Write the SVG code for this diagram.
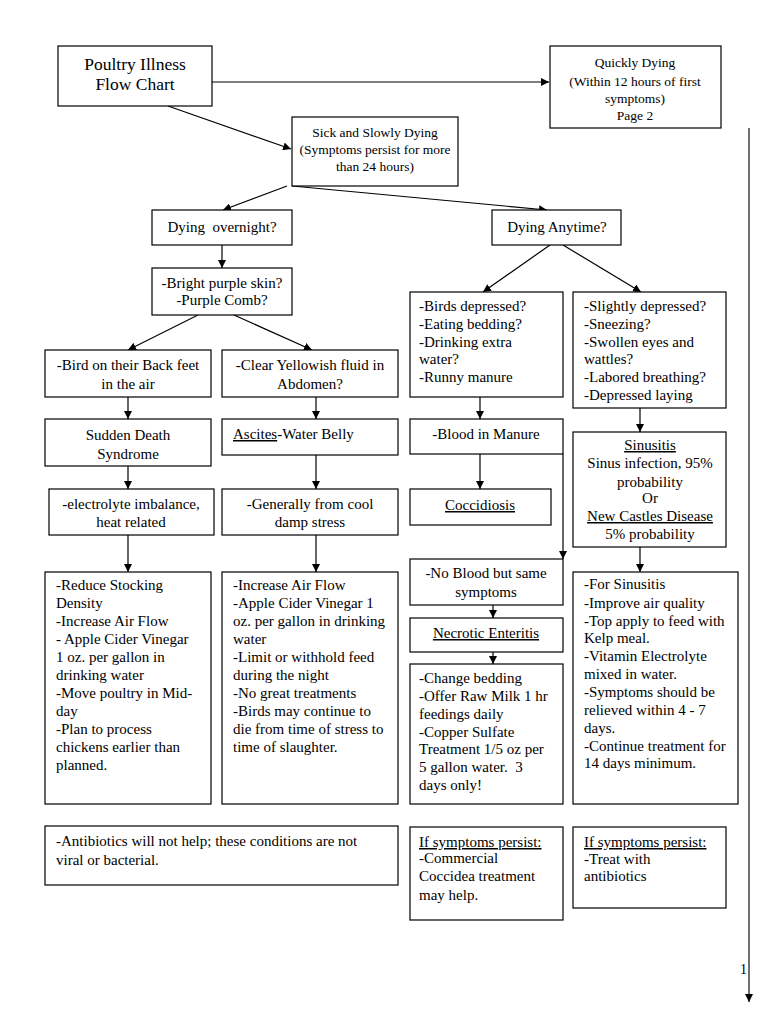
<svg xmlns="http://www.w3.org/2000/svg" width="768" height="1024" viewBox="0 0 768 1024">
<style>
text{font-family:"Liberation Serif","Times New Roman",serif;font-size:15px;fill:#000;white-space:pre}
.c{text-anchor:middle}
.t{font-size:17.5px}
.s{font-size:13.5px}
rect{fill:#fff;stroke:#000;stroke-width:1.2}
.ln{stroke:#000;stroke-width:1.2;fill:none;marker-end:url(#ah)}
.u{text-decoration:underline}
</style>
<defs>
<marker id="ah" viewBox="0 0 10 10" refX="10" refY="5" markerWidth="8" markerHeight="8" markerUnits="userSpaceOnUse" orient="auto">
<path d="M0,0 L10,5 L0,10 z" fill="#000"/>
</marker>
</defs>
<rect x="0" y="0" width="768" height="1024" style="stroke:none"/>
<g id="connectors">
<line class="ln" x1="212" y1="82" x2="549" y2="82"/>
<line class="ln" x1="168" y1="106" x2="291" y2="149"/>
<line class="ln" x1="287" y1="186" x2="223" y2="210"/>
<line class="ln" x1="292" y1="186" x2="547" y2="210"/>
<line class="ln" x1="222" y1="245" x2="222" y2="268"/>
<line class="ln" x1="198" y1="315" x2="128" y2="350"/>
<line class="ln" x1="234" y1="315" x2="312" y2="350"/>
<line class="ln" x1="128" y1="397" x2="128" y2="419"/>
<line class="ln" x1="316" y1="397" x2="316" y2="419"/>
<line class="ln" x1="128" y1="466" x2="128" y2="489"/>
<line class="ln" x1="316" y1="455" x2="316" y2="489"/>
<line class="ln" x1="128" y1="535" x2="128" y2="572"/>
<line class="ln" x1="316" y1="535" x2="316" y2="572"/>
<line class="ln" x1="550" y1="245" x2="483" y2="292"/>
<line class="ln" x1="563" y1="245" x2="641" y2="292"/>
<line class="ln" x1="480" y1="397" x2="480" y2="419"/>
<line class="ln" x1="480" y1="454" x2="480" y2="489"/>
<line class="ln" x1="563" y1="454" x2="563" y2="559"/>
<line class="ln" x1="640" y1="408" x2="640" y2="432"/>
<line class="ln" x1="640" y1="547" x2="640" y2="572"/>
<line class="ln" x1="493" y1="605" x2="493" y2="618"/>
<line class="ln" x1="493" y1="652" x2="493" y2="664"/>
<line class="ln" x1="749" y1="128" x2="749" y2="1002" style="stroke:#333;stroke-width:1.4"/>
</g>
<g id="title">
<rect x="58" y="46" width="154" height="60"/>
<text class="c t" x="135" y="70">Poultry Illness</text>
<text class="c t" x="135" y="90">Flow Chart</text>
</g>
<g id="quickly">
<rect x="550" y="46" width="171" height="82"/>
<text class="c s" x="635" y="67">Quickly Dying</text>
<text class="c s" x="635" y="86">(Within 12 hours of first</text>
<text class="c s" x="635" y="103">symptoms)</text>
<text class="c s" x="635" y="120">Page 2</text>
</g>
<g id="sick">
<rect x="292" y="117" width="166" height="69"/>
<text class="c s" x="375" y="137">Sick and Slowly Dying</text>
<text class="c s" x="375" y="154">(Symptoms persist for more</text>
<text class="c s" x="375" y="171">than 24 hours)</text>
</g>
<g id="overnight">
<rect x="152" y="210" width="140" height="35"/>
<text class="c" x="222" y="232">Dying  overnight?</text>
</g>
<g id="anytime">
<rect x="492" y="210" width="129" height="35"/>
<text class="c" x="557" y="232">Dying Anytime?</text>
</g>
<g id="purple">
<rect x="152" y="268" width="140" height="47"/>
<text class="c" x="222" y="288">-Bright purple skin?</text>
<text class="c" x="222" y="305">-Purple Comb?</text>
</g>
<g id="bird">
<rect x="45" y="350" width="166" height="47"/>
<text class="c" x="128" y="370">-Bird on their Back feet</text>
<text class="c" x="128" y="389">in the air</text>
</g>
<g id="clear">
<rect x="222" y="350" width="176" height="47"/>
<text class="c" x="310" y="370">-Clear Yellowish fluid in</text>
<text class="c" x="310" y="389">Abdomen?</text>
</g>
<g id="sudden">
<rect x="45" y="419" width="166" height="47"/>
<text class="c" x="128" y="440">Sudden Death</text>
<text class="c" x="128" y="459">Syndrome</text>
</g>
<g id="ascites">
<rect x="222" y="419" width="176" height="36"/>
<text x="233" y="439"><tspan class="u">Ascites</tspan>-Water Belly</text>
</g>
<g id="electrolyte">
<rect x="49" y="489" width="165" height="46"/>
<text class="c" x="131" y="509">-electrolyte imbalance,</text>
<text class="c" x="131" y="527">heat related</text>
</g>
<g id="generally">
<rect x="222" y="489" width="176" height="46"/>
<text class="c" x="310" y="509">-Generally from cool</text>
<text class="c" x="310" y="527">damp stress</text>
</g>
<g id="reduce">
<rect x="45" y="572" width="166" height="232"/>
<text x="56" y="590">-Reduce Stocking</text>
<text x="56" y="608">Density</text>
<text x="56" y="626">-Increase Air Flow</text>
<text x="56" y="644">- Apple Cider Vinegar</text>
<text x="56" y="662">1 oz. per gallon in</text>
<text x="56" y="680">drinking water</text>
<text x="56" y="698">-Move poultry in Mid-</text>
<text x="56" y="716">day</text>
<text x="56" y="734">-Plan to process</text>
<text x="56" y="752">chickens earlier than</text>
<text x="56" y="770">planned.</text>
</g>
<g id="increase">
<rect x="222" y="572" width="176" height="232"/>
<text x="233" y="590">-Increase Air Flow</text>
<text x="233" y="608">-Apple Cider Vinegar 1</text>
<text x="233" y="626">oz. per gallon in drinking</text>
<text x="233" y="644">water</text>
<text x="233" y="662">-Limit or withhold feed</text>
<text x="233" y="680">during the night</text>
<text x="233" y="698">-No great treatments</text>
<text x="233" y="716">-Birds may continue to</text>
<text x="233" y="734">die from time of stress to</text>
<text x="233" y="752">time of slaughter.</text>
</g>
<g id="antibiotics">
<rect x="45" y="826" width="353" height="59"/>
<text x="56" y="846">-Antibiotics will not help; these conditions are not</text>
<text x="56" y="865">viral or bacterial.</text>
</g>
<g id="depressed">
<rect x="410" y="292" width="153" height="105"/>
<text x="419" y="311">-Birds depressed?</text>
<text x="419" y="329">-Eating bedding?</text>
<text x="419" y="347">-Drinking extra</text>
<text x="419" y="364">water?</text>
<text x="419" y="382">-Runny manure</text>
</g>
<g id="slightly">
<rect x="573" y="292" width="153" height="116"/>
<text x="584" y="311">-Slightly depressed?</text>
<text x="584" y="329">-Sneezing?</text>
<text x="584" y="347">-Swollen eyes and</text>
<text x="584" y="364">wattles?</text>
<text x="584" y="382">-Labored breathing?</text>
<text x="584" y="400">-Depressed laying</text>
</g>
<g id="blood">
<rect x="410" y="419" width="153" height="35"/>
<text class="c" x="486" y="439">-Blood in Manure</text>
</g>
<g id="coccidiosis">
<rect x="410" y="489" width="141" height="36"/>
<text class="c u" x="480" y="510">Coccidiosis</text>
</g>
<g id="sinusitis">
<rect x="573" y="432" width="153" height="115"/>
<text class="c u" x="650" y="450">Sinusitis</text>
<text class="c" x="650" y="468">Sinus infection, 95%</text>
<text class="c" x="650" y="487">probability</text>
<text class="c" x="650" y="503">Or</text>
<text class="c u" x="650" y="521">New Castles Disease</text>
<text class="c" x="650" y="539">5% probability</text>
</g>
<g id="noblood">
<rect x="410" y="559" width="153" height="46"/>
<text class="c" x="486" y="578">-No Blood but same</text>
<text class="c" x="486" y="597">symptoms</text>
</g>
<g id="necrotic">
<rect x="410" y="618" width="153" height="34"/>
<text class="c u" x="486" y="638">Necrotic Enteritis</text>
</g>
<g id="change">
<rect x="410" y="664" width="153" height="140"/>
<text x="419" y="683">-Change bedding</text>
<text x="419" y="701">-Offer Raw Milk 1 hr</text>
<text x="419" y="719">feedings daily</text>
<text x="419" y="737">-Copper Sulfate</text>
<text x="419" y="754">Treatment 1/5 oz per</text>
<text x="419" y="772">5 gallon water.  3</text>
<text x="419" y="790">days only!</text>
</g>
<g id="forsinusitis">
<rect x="573" y="572" width="165" height="232"/>
<text x="584" y="589">-For Sinusitis</text>
<text x="584" y="608">-Improve air quality</text>
<text x="584" y="626">-Top apply to feed with</text>
<text x="584" y="643">Kelp meal.</text>
<text x="584" y="661">-Vitamin Electrolyte</text>
<text x="584" y="679">mixed in water.</text>
<text x="584" y="697">-Symptoms should be</text>
<text x="584" y="715">relieved within 4 - 7</text>
<text x="584" y="733">days.</text>
<text x="584" y="751">-Continue treatment for</text>
<text x="584" y="768">14 days minimum.</text>
</g>
<g id="persist1">
<rect x="410" y="827" width="153" height="93"/>
<text class="u" x="419" y="847">If symptoms persist:</text>
<text x="419" y="863">-Commercial</text>
<text x="419" y="881">Coccidea treatment</text>
<text x="419" y="900">may help.</text>
</g>
<g id="persist2">
<rect x="573" y="827" width="153" height="81"/>
<text class="u" x="584" y="847">If symptoms persist:</text>
<text x="584" y="864">-Treat with</text>
<text x="584" y="881">antibiotics</text>
</g>
<text x="740" y="974" style="font-size:14px">1</text>
</svg>
